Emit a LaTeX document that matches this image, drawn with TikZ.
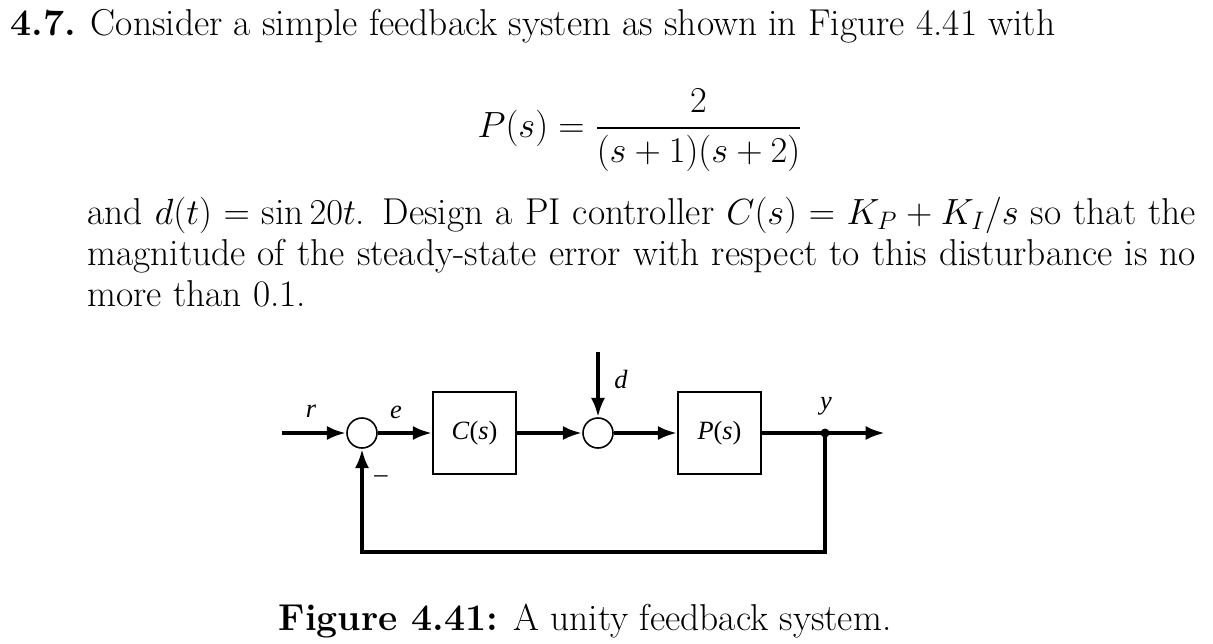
\documentclass[tikz,border=0pt]{standalone}
\usepackage{amsmath}
\usepackage{fontspec}
\newfontfamily\timesf{Liberation Serif}
\usetikzlibrary{arrows.meta}
\begin{document}
\begin{tikzpicture}[x=0.02cm,y=-0.02cm,
  sig/.style={line width=2.4pt,-{Latex[length=11pt,width=8pt]}},
  wire/.style={line width=2.4pt},
  blk/.style={draw,line width=0.9pt,minimum width=83*0.02cm,minimum height=82*0.02cm,inner sep=0pt,font=\timesf\fontsize{15}{17}\selectfont},
  sumn/.style={draw,circle,line width=0.9pt,minimum size=30*0.02cm,inner sep=0pt},
  lbl/.style={font=\timesf\itshape\fontsize{15}{17}\selectfont},
  txt/.style={anchor=base west,inner sep=0pt,font=\fontsize{21.3}{25}\selectfont}]
\useasboundingbox (0,0) rectangle (1213,643);
\node[txt] (l0) at (10,35) {\textbf{4.7.} Consider a simple feedback system as shown in Figure 4.41 with};
\node[txt,anchor=base] (f) at (640,137) {$\displaystyle P(s)=\frac{2}{(s+1)(s+2)}$};
\node[txt] (l1) at (87,224) {\makebox[631pt][s]{and $d(t)=\sin 20t$. Design a PI controller $C(s)=K_P+K_I/s$ so that the}};
\node[txt] (l2) at (87,265) {\makebox[631pt][s]{magnitude of the steady-state error with respect to this disturbance is no}};
\node[txt] (l3) at (87,306) {more than 0.1.};
\node[txt,anchor=base] (cap) at (585,630) {\textbf{Figure 4.41:} A unity feedback system.};
% diagram
\coordinate (in) at (282,433);
\node[sumn] (s1) at (362,433) {};
\node[blk] (C) at (474.5,433) {\textit{C}(\textit{s})};
\node[sumn] (s2) at (598,433) {};
\node[blk] (P) at (719.5,433) {\textit{P}(\textit{s})};
\coordinate (dt) at (598,352);
\coordinate (j) at (825,433);
\coordinate (out) at (885,433);
\coordinate (bl) at (362,552);
\coordinate (br) at (825,552);
\draw[sig] (in) -- (s1);
\draw[sig] (s1) -- (C);
\draw[sig] (C) -- (s2);
\draw[sig] (dt) -- (s2);
\draw[sig] (s2) -- (P);
\draw[wire] (P) -- (j);
\draw[sig] (j) -- (out);
\draw[sig] (j) -- (br) -- (bl) -- (s1);
\fill (j) circle (4.5*0.02cm);
\node[lbl] (r) at (311,411) {r};
\node[lbl] (e) at (396,412) {e};
\node[lbl] (d) at (621,379) {d};
\node[lbl] (y) at (826,406) {y};
\node[font=\timesf\fontsize{15}{17}\selectfont] (m) at (381,479) {\textendash};
\end{tikzpicture}
\end{document}
